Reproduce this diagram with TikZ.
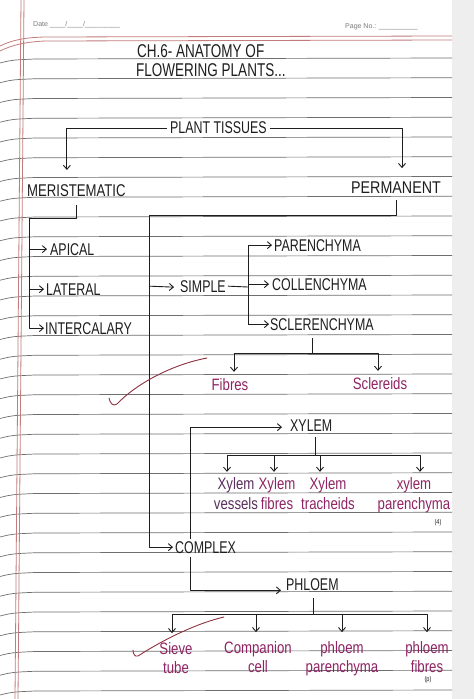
\documentclass[tikz,border=0pt]{standalone}
\usepackage{fontspec}
\setmainfont{Liberation Sans}
\newfontfamily\hand[FakeStretch=0.8]{Liberation Sans}
\newfontfamily\handc[FakeStretch=0.73]{Liberation Sans}
\usetikzlibrary{arrows.meta,calc}
\definecolor{ink}{HTML}{1E1E1E}
\definecolor{pinkink}{HTML}{8E2463}
\definecolor{purpink}{HTML}{5A2E5C}
\definecolor{rulec}{HTML}{6E6E6E}
\definecolor{marginc}{HTML}{C27C7C}
\definecolor{tickc}{HTML}{8E3040}
\definecolor{hdr}{HTML}{7A7A7A}
\definecolor{edgec}{HTML}{EEEEEE}
\newcommand\twolines[2]{\begin{tabular}[t]{@{}c@{}}#1\\#2\end{tabular}}
\tikzset{
  captext/.style={font=\handc\fontsize{17}{19}\selectfont, text=ink, inner sep=0pt},
  ttltext/.style={font=\handc\fontsize{18.5}{19}\selectfont, text=ink, inner sep=0pt},
  pktext/.style={font=\hand\fontsize{16.5}{20}\selectfont, text=pinkink, inner sep=0pt},
  pkrow/.style={font=\hand\fontsize{16.5}{19.5}\selectfont, text=pinkink, inner sep=0pt},
  smalltext/.style={font=\hand\fontsize{7}{8}\selectfont, text=ink, inner sep=0pt},
  hdrtext/.style={font=\fontsize{7}{8}\selectfont, text=hdr, inner sep=0pt},
  conn/.style={draw=ink, line width=0.9pt},
  arr/.style={conn, -{Straight Barb[length=4pt,width=7pt]}},
  rulel/.style={draw=rulec, line width=0.7pt},
  marginl/.style={draw=marginc, line width=0.8pt},
  tickl/.style={draw=tickc, line width=0.9pt, line cap=round}
}
\begin{document}
\begin{tikzpicture}[x=1pt,y=-1pt,line join=round]
\useasboundingbox (0,0) rectangle (474,699);
\fill[white] (0,0) rectangle (474,699);
\fill[edgec] (452,0) rectangle (474,699);
% ruled lines
\foreach \k in {0,...,32}{
  \pgfmathsetmacro\yy{58+19.75*\k}
  \draw[rulel] (0,\yy+5) .. controls (12,\yy+2) .. (35,\yy+1) -- (452,\yy);
}
% header double line
\draw[marginl] (0,46) .. controls (12,40) and (25,37.5) .. (45,37) -- (452,36);
\draw[marginl] (0,51) .. controls (12,45) and (25,42) .. (45,41) -- (452,40);
% margin lines
\draw[marginl] (21,0) -- (15,699);
\draw[marginl] (24,0) -- (18,699);
% header text
\node[hdrtext, anchor=base west] (date) at (33,26) {Date \_\_\_\_/\_\_\_\_/\_\_\_\_\_\_\_\_\_};
\node[hdrtext, anchor=base west] (pageno) at (345,28) {Page No.: \_\_\_\_\_\_\_\_\_\_};
% titles
\node[ttltext, anchor=base west] (title1) at (137,57) {CH.6- ANATOMY OF};
\node[ttltext, anchor=base west] (title2) at (136,76) {FLOWERING PLANTS...};
% main nodes
\node[captext, anchor=base west] (pt) at (170,133) {PLANT TISSUES};
\node[captext, anchor=base west] (mer) at (27,196) {\scalebox{1.06}[1]{MERISTEMATIC}};
\node[captext, anchor=base east] (per) at (441,193) {\scalebox{1.15}[1]{PERMANENT}};
\node[captext, anchor=base west] (api) at (50,255) {APICAL};
\node[captext, anchor=base west] (lat) at (46,295) {LATERAL};
\node[captext, anchor=base west] (int) at (45,334) {INTERCALARY};
\node[captext, anchor=base west] (sim) at (180,292) {SIMPLE};
\node[captext, anchor=base west] (par) at (274,251) {PARENCHYMA};
\node[captext, anchor=base west] (col) at (272,290) {COLLENCHYMA};
\node[captext, anchor=base west] (scl) at (270,330) {SCLERENCHYMA};
\node[pktext, anchor=base] (fib) at (230,390) {Fibres};
\node[pktext, anchor=base] (scd) at (380,389) {Sclereids};
\node[captext, anchor=base west] (xyl) at (290,431) {XYLEM};
\node[captext, anchor=base west] (cpx) at (175,553) {COMPLEX};
\node[captext, anchor=base west] (phl) at (286,590) {PHLOEM};
% xylem elements
\node[pktext, text=purpink, anchor=base] (xv) at (236,489) {\twolines{Xylem}{vessels}};
\node[pktext, anchor=base] (xf) at (277,489) {\twolines{Xylem}{fibres}};
\node[pktext, anchor=base] (xt) at (328,489) {\twolines{Xylem}{tracheids}};
\node[pktext, anchor=base] (xp) at (414,489) {\twolines{xylem}{parenchyma}};
\node[smalltext, anchor=base] (n4) at (438,524) {(4)};
% phloem elements
\node[pkrow, anchor=base] (ps) at (176,654) {\twolines{Sieve}{tube}};
\node[pkrow, anchor=base] (pc) at (258,653) {\twolines{Companion}{cell}};
\node[pkrow, anchor=base] (pp) at (342,653) {\twolines{phloem}{parenchyma}};
\node[pkrow, anchor=base] (pf) at (427,653) {\twolines{phloem}{fibres}};
\node[smalltext, anchor=base] (np) at (428,681) {(p)};
% plant tissues split
\draw[arr] ($(pt.west)+(-3,1)$) -| ($(mer.north)+(-9.5,-14)$);
\draw[arr] ($(pt.east)+(3,1)$) -| ($(per.north)+(6,-13)$);
% meristematic
\coordinate (mj) at (29,218);
\draw[conn] ($(mer.south)+(0,9)$) |- (mj);
\draw[arr] (mj) |- ($(int.west)+(-1,0)$);
\draw[arr] (mj |- api.west) -- ($(api.west)+(-3,0)$);
\draw[arr] (mj |- lat.west) -- ($(lat.west)+(-2,0)$);
% permanent
\coordinate (pj) at (149,215);
\draw[conn] ($(per.south)+(0,7)$) |- (pj);
\draw[arr] (pj) |- ($(cpx.west)+(-2,0)$);
\draw[arr] (pj |- sim.west) -- ($(sim.west)+(-6,1)$);
% simple
\coordinate (sx) at (248,287);
\draw[conn] ($(sim.east)+(2,0)$) -- (sx);
\draw[conn] (sx |- par.west) -- (sx |- scl.west);
\draw[arr] (sx |- par.west) -- ($(par.west)+(-2,0)$);
\draw[arr] (sx |- col.west) -- ($(col.west)+(-3,0)$);
\draw[arr] (sx |- scl.west) -- ($(scl.west)+(-1,0)$);
% sclerenchyma
\coordinate (sc) at (312,353);
\draw[conn] ($(scl.south -| sc)+(0,8)$) -- (sc);
\draw[arr] (sc) -| ($(fib.north)+(4,-6)$);
\draw[arr] (sc) -| ($(scd.north)+(-2,-6)$);
% complex
\draw[arr] ($(cpx.north west)+(15,-2)$) |- ($(xyl.west)+(-8,2)$);
\draw[arr] ($(cpx.south west)+(15,4)$) |- ($(phl.south west)+(-5,0)$);
% xylem
\coordinate (xj) at (315,455);
\draw[conn] ($(xyl.south west)+(25,6)$) -- (xj);
\draw[arr] (xj) -| ($(xv.north)+(-9,-3)$);
\draw[arr] (xj) -| ($(xf.north)+(-3,-3)$);
\draw[arr] (xj) -| ($(xt.north)+(-8,-3)$);
\draw[arr] (xj) -| ($(xp.north)+(6,-3)$);
% phloem
\coordinate (fj) at (313,614);
\draw[conn] ($(phl.south west)+(27,8)$) -- (fj);
\draw[arr] (fj) -| ($(ps.north)+(-4,-7)$);
\draw[arr] (fj) -| ($(pc.north)+(-2,-7)$);
\draw[arr] (fj) -| ($(pp.north)+(0,-7)$);
\draw[arr] (fj) -| ($(pf.north)+(0,-7)$);
% tick marks
\draw[tickl] (207,358) .. controls (170,365) and (135,385) .. (117,404) .. controls (113,407) and (110,403) .. (109,398);
\draw[tickl] (224,617) .. controls (190,625) and (155,645) .. (138,656) .. controls (135,657) and (133,654) .. (133,650);
\end{tikzpicture}
\end{document}
